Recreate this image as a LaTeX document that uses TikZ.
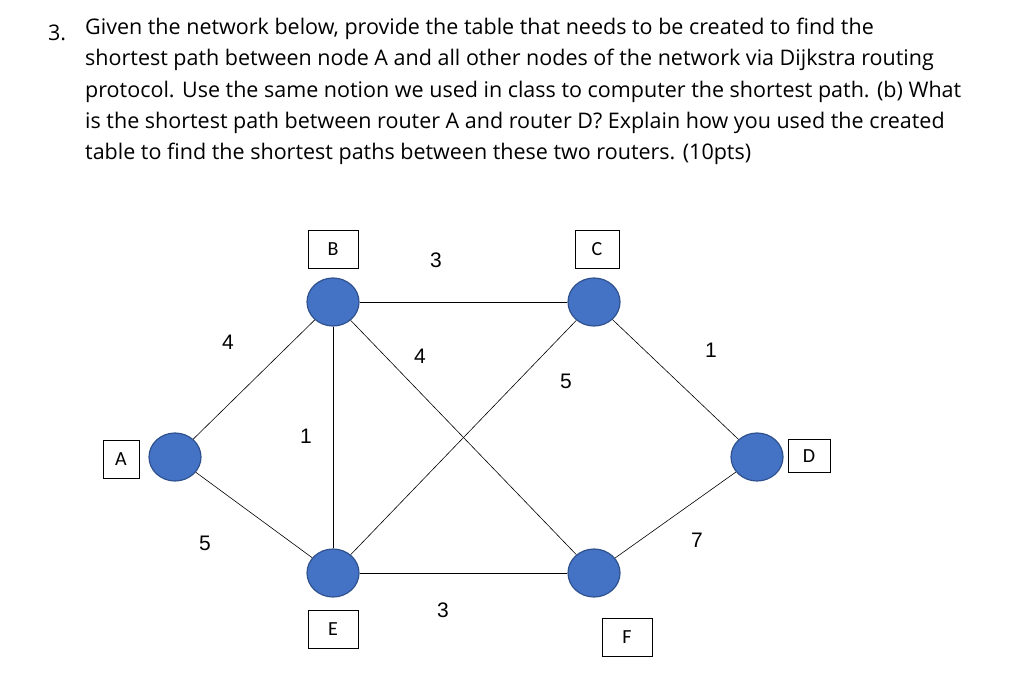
\documentclass[tikz,border=0pt]{standalone}
\usepackage{fontspec}
\setmainfont{Open Sans}
\newfontfamily\lab{Liberation Sans}
\newfontfamily\blab{Carlito}
\usetikzlibrary{shapes.geometric}
\definecolor{nodeblue}{HTML}{4472C4}
\definecolor{nodeedge}{HTML}{2F528F}
\begin{document}
\begin{tikzpicture}[x=1pt,y=-1pt,
  rt/.style={ellipse,draw=nodeedge,line width=1.2pt,fill=nodeblue,minimum width=52pt,minimum height=48pt,inner sep=0pt},
  bx/.style={draw,thin,minimum height=38pt,font=\blab\fontsize{20}{22}\selectfont,inner sep=0pt},
  wt/.style={font=\lab\fontsize{21}{24}\selectfont},
  ed/.style={line width=0.6pt}]
\useasboundingbox (0,0) rectangle (1024,696);
\node[anchor=base west,inner sep=0pt,font=\fontsize{21.5}{31.3}\selectfont] (n3) at (48,40) {3.};
\node[anchor=north west,align=left,inner sep=0pt,font=\fontsize{21.5}{31.3}\selectfont] (q) at (85,18) {Given the network below, provide the table that needs to be created to find the\\shortest path between node A and all other nodes of the network via Dijkstra routing\\protocol. Use the same notion we used in class to computer the shortest path. (b) What\\is the shortest path between router A and router D? Explain how you used the created\\table to find the shortest paths between these two routers. (10pts)};
\node[rt] (A) at (175,457) {};
\node[rt] (B) at (333,302) {};
\node[rt] (C) at (594,302) {};
\node[rt] (D) at (757,457) {};
\node[rt] (E) at (333,573) {};
\node[rt] (F) at (594,573) {};
\draw[ed] (A)--(B); \draw[ed] (A)--(E); \draw[ed] (B)--(C); \draw[ed] (B)--(E);
\draw[ed] (B)--(F); \draw[ed] (C)--(E); \draw[ed] (C)--(D); \draw[ed] (D)--(F); \draw[ed] (E)--(F);
\node[bx,minimum width=50pt] (lB) at (333,249) {B};
\node[bx,minimum width=44pt] (lC) at (597,249) {C};
\node[bx,minimum width=36pt] (lA) at (121,459) {A};
\node[bx,minimum width=42pt,minimum height=33pt] (lD) at (809,456) {D};
\node[bx,minimum width=50pt] (lE) at (333,629) {E};
\node[bx,minimum width=50pt] (lF) at (627,637) {F};
\node[wt] (w1) at (228,342) {4};
\node[wt] (w2) at (436,260) {3};
\node[wt] (w3) at (420,356) {4};
\node[wt] (w4) at (711,350) {1};
\node[wt] (w5) at (566,381) {5};
\node[wt] (w6) at (306,436) {1};
\node[wt] (w7) at (205,543) {5};
\node[wt] (w8) at (697,540) {7};
\node[wt] (w9) at (443,610) {3};
\end{tikzpicture}
\end{document}
